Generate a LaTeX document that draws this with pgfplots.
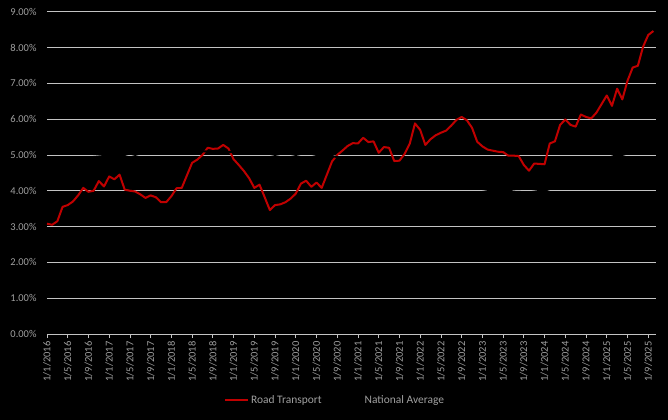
\documentclass[border=0pt]{standalone}
\usepackage{fontspec}
\setmainfont{Carlito}
\usepackage{pgfplots}
\usepackage{pgfplotstable}
\pgfplotsset{compat=1.18}
\definecolor{roadred}{RGB}{192,0,0}
\definecolor{gridc}{RGB}{195,195,195}
\definecolor{labc}{RGB}{160,160,160}
\pgfplotstableread{
m v
0 3.08
1 3.05
2 3.15
3 3.55
4 3.60
5 3.70
6 3.87
7 4.08
8 3.97
9 4.00
10 4.27
11 4.12
12 4.40
13 4.32
14 4.45
15 4.03
16 4.00
17 3.98
18 3.90
19 3.80
20 3.87
21 3.82
22 3.68
23 3.68
24 3.85
25 4.07
26 4.08
27 4.43
28 4.78
29 4.87
30 5.00
31 5.20
32 5.17
33 5.18
34 5.28
35 5.18
36 4.88
37 4.72
38 4.55
39 4.35
40 4.08
41 4.17
42 3.82
43 3.46
44 3.60
45 3.62
46 3.68
47 3.78
48 3.92
49 4.20
50 4.28
51 4.11
52 4.23
53 4.08
54 4.45
55 4.82
56 5.00
57 5.12
58 5.25
59 5.33
60 5.32
61 5.48
62 5.36
63 5.38
64 5.06
65 5.22
66 5.20
67 4.83
68 4.84
69 5.03
70 5.32
71 5.88
72 5.70
73 5.28
74 5.44
75 5.55
76 5.62
77 5.68
78 5.82
79 5.98
80 6.06
81 5.97
82 5.76
83 5.37
84 5.24
85 5.15
86 5.12
87 5.09
88 5.08
89 4.98
90 4.98
91 4.97
92 4.72
93 4.56
94 4.76
95 4.75
96 4.74
97 5.32
98 5.38
99 5.84
100 5.99
101 5.84
102 5.79
103 6.13
104 6.06
105 6.02
106 6.18
107 6.42
108 6.66
109 6.37
110 6.85
111 6.55
112 7.07
113 7.44
114 7.49
115 8.02
116 8.35
117 8.46
}\roadtable
\pgfplotstableread{
m v
0 4.85
4 4.90
8 4.93
11 4.97
12 5.00
15 5.00
16 5.04
17 5.00
18 5.04
24 5.08
30 5.10
36 5.08
42 5.06
44 5.00
46 5.06
48 5.00
50 5.06
52 5.00
54 5.00
56 4.94
60 4.85
66 4.60
72 4.40
78 4.20
84 4.05
86 4.00
89 4.00
90 4.04
93 4.06
96 4.00
97 4.05
100 4.30
104 4.60
108 4.90
110 5.00
111 5.00
113 5.08
117 5.12
}\nattable
\begin{document}
\begin{tikzpicture}
\fill[black] (-47bp,-86bp) rectangle (621bp,334bp);
\begin{axis}[
  scale only axis, width=609bp, height=322.3bp,
  xmin=0, xmax=117.5, ymin=0, ymax=9,
  axis x line*=bottom, axis y line*=left,
  y axis line style={draw=none},
  x axis line style={draw=gridc, line width=0.8bp},
  tick align=outside, major tick length=4bp,
  ytick={0,1,...,9},
  ytick style={draw=none},
  xtick style={draw=gridc, line width=0.8bp},
  ymajorgrids, major grid style={draw=gridc, line width=0.8bp},
  /pgf/number format/assume math mode=true,
  yticklabel={\pgfmathprintnumber[fixed,fixed zerofill,precision=2]{\tick}\%},
  yticklabel style={text=labc, font=\fontsize{10.5}{12}\selectfont, xshift=-3bp},
  xtick={0,4,...,116},
  xticklabels={1/1/2016,1/5/2016,1/9/2016,1/1/2017,1/5/2017,1/9/2017,1/1/2018,1/5/2018,1/9/2018,1/1/2019,1/5/2019,1/9/2019,1/1/2020,1/5/2020,1/9/2020,1/1/2021,1/5/2021,1/9/2021,1/1/2022,1/5/2022,1/9/2022,1/1/2023,1/5/2023,1/9/2023,1/1/2024,1/5/2024,1/9/2024,1/1/2025,1/5/2025,1/9/2025},
  xticklabel style={rotate=90, anchor=east, text=labc, font=\fontsize{10.5}{12}\selectfont},
  legend style={at={(0.473,-0.205)}, anchor=center, draw=none, fill=none,
    text=labc, font=\fontsize{11.5}{13}\selectfont, legend columns=2,
    /tikz/every even column/.append style={column sep=14bp}},
  legend image code/.code={\draw[#1] (0bp,0bp) -- (23bp,0bp);},
]
\addplot[roadred, line width=2bp, line join=round] table[x=m,y=v] {\roadtable};
\addlegendentry{Road Transport}
\addplot[black, line width=2bp, line join=round] table[x=m,y=v] {\nattable};
\addlegendentry{National Average}
\end{axis}
\pgfresetboundingbox
\path (-47bp,-86bp) rectangle (621bp,334bp);
\end{tikzpicture}
\end{document}
